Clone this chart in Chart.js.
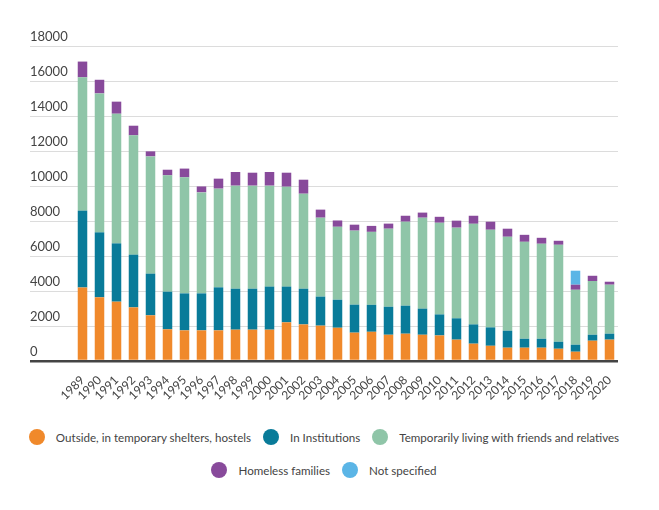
<!DOCTYPE html>
<html>
<head>
<meta charset="utf-8">
<script src="https://cdn.jsdelivr.net/npm/chart.js@4.4.0/dist/chart.umd.min.js"></script>
<style>
  body { margin: 0; background: #fff; font-family: Lato, 'Open Sans', sans-serif; }
  #wrap { position: relative; width: 659px; height: 415px; }
  #legend { width: 659px; display: flex; flex-wrap: wrap; justify-content: center; row-gap: 17px; padding-top: 14px; padding-right: 11px; box-sizing: border-box; }
  .item { display: flex; align-items: center; margin: 0 6px; font-size: 11.6px; color: #444; white-space: nowrap; }
  .dot { width: 16px; height: 16px; border-radius: 50%; margin-right: 11px; }
</style>
</head>
<body>
<div id="wrap"><canvas id="c"></canvas></div>
<div id="legend"></div>
<script>
const years = ['1989', '1990', '1991', '1992', '1993', '1994', '1995', '1996', '1997', '1998', '1999', '2000', '2001', '2002', '2003', '2004',
  '2005', '2006', '2007', '2008', '2009', '2010', '2011', '2012', '2013', '2014', '2015', '2016', '2017', '2018', '2019', '2020'];
const outside = [4200, 3640, 3390, 3065, 2610, 1810, 1750, 1750, 1750, 1790, 1790, 1790, 2210, 2090, 2020, 1900,
  1620, 1670, 1500, 1560, 1500, 1460, 1220, 990, 870, 760, 760, 760, 700, 530, 1160, 1220];
const institutions = [4390, 3710, 3330, 3010, 2380, 2150, 2115, 2115, 2460, 2340, 2340, 2460, 2040, 2040, 1660, 1600,
  1600, 1540, 1600, 1600, 1490, 1200, 1220, 1100, 1050, 970, 510, 510, 400, 400, 340, 340];
const friends = [7620, 7940, 7410, 6820, 6700, 6650, 6630, 5770, 5640, 5890, 5890, 5770, 5710, 5430, 4510, 4170,
  4230, 4170, 4460, 4800, 5200, 5240, 5180, 5750, 5580, 5370, 5540, 5430, 5540, 3140, 3070, 2800];
const families = [900, 780, 690, 550, 290, 320, 500, 340, 570, 780, 740, 780, 800, 800, 460, 360,
  340, 340, 290, 340, 290, 340, 400, 460, 460, 460, 400, 340, 230, 290, 300, 170];
const notSpecified = [null, null, null, null, null, null, null, null, null, null, null, null, null, null, null, null,
  null, null, null, null, null, null, null, null, null, null, null, null, null, 800, null, null];
const yTicks = [0, 2000, 4000, 6000, 8000, 10000, 12000, 14000, 16000, 18000];

const series = [
  { label: 'Outside, in temporary shelters, hostels', data: outside, color: '#f0892b' },
  { label: 'In Institutions', data: institutions, color: '#097b99' },
  { label: 'Temporarily living with friends and relatives', data: friends, color: '#8fc5a8' },
  { label: 'Homeless families', data: families, color: '#884a9b' },
  { label: 'Not specified', data: notSpecified, color: '#5bb5e6' }
];

const ctx = document.getElementById('c');
const chart = new Chart(ctx, {
  type: 'bar',
  data: {
    labels: years,
    datasets: series.map(s => ({
      label: s.label, data: s.data, backgroundColor: s.color, borderWidth: 0,
      categoryPercentage: 1, barPercentage: 0.56
    }))
  },
  options: {
    responsive: true, maintainAspectRatio: false, animation: false,
    layout: { padding: { left: 30, right: 41, top: 46, bottom: 4 } },
    plugins: {
      legend: { display: false },
      tooltip: { mode: 'index', intersect: false }
    },
    scales: {
      x: {
        stacked: true,
        grid: { display: false },
        border: { display: false },
        ticks: { autoSkip: false, minRotation: 45, maxRotation: 45, padding: 4,
          color: '#444', font: { family: 'Lato', size: 12 } },
        afterFit: s => { s.height = 50; }
      },
      y: {
        stacked: true, min: 0, max: 18000,
        afterBuildTicks: s => { s.ticks = yTicks.map(v => ({ value: v })); },
        grid: {
          color: c => c.tick && c.tick.value === 0 ? '#444' : '#dcdcdc',
          lineWidth: c => c.tick && c.tick.value === 0 ? 2.5 : 1,
          drawTicks: true, tickLength: 44
        },
        border: { display: false },
        ticks: { padding: 0, crossAlign: 'far', labelOffset: -9,
          callback: v => String(v),
          color: '#444', font: { family: 'Lato', size: 13 } },
        afterFit: s => { s.width = 44; }
      }
    }
  }
});

const legend = document.getElementById('legend');
chart.data.datasets.forEach(ds => {
  const it = document.createElement('div');
  it.className = 'item';
  const dot = document.createElement('span');
  dot.className = 'dot';
  dot.style.background = ds.backgroundColor;
  const txt = document.createElement('span');
  txt.textContent = ds.label;
  it.appendChild(dot);
  it.appendChild(txt);
  legend.appendChild(it);
});
</script>
</body>
</html>
